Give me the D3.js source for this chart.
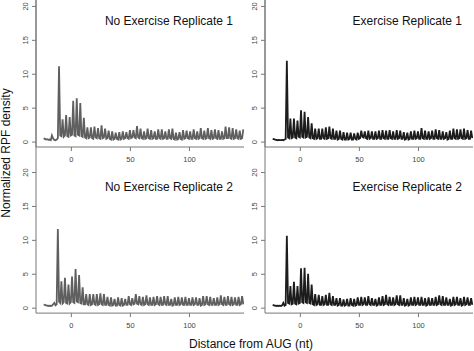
<!DOCTYPE html>
<html>
<head>
<meta charset="utf-8">
<script src="https://cdn.jsdelivr.net/npm/d3@7"></script>
<style>
  body { margin: 0; background: #fff; }
  svg { display: block; font-family: "Liberation Sans", Arial, sans-serif; }
  .axis text { fill: #444; font-size: 7.5px; }
  .axis line { stroke: #777; }
  .frame { stroke: #777; stroke-width: 1; }
  .panel-title { font-size: 12px; fill: #111; text-anchor: end; }
  .axis-title { font-size: 12px; fill: #111; text-anchor: middle; }
</style>
</head>
<body>
<div id="chart"></div>
<script>

// nucleotide position of the first value in each series (distance from AUG)
const firstPos = -23;

// Normalized RPF density, one value per nucleotide from -23 to 146
const noExRep1 = [
    0.5, 0.4, 0.3, 0.35, 0.25, 0.3, 0.2, 0.9, 0.45, 0.25, 0.2, 0.3, 0.5,
    11.1, 0.9, 0.8,  3.3, 0.7, 0.9,  3.9, 0.8, 0.7,  3.6, 0.9, 1.0,
    6.0, 0.9, 0.8,  6.4, 1.0, 0.9,  5.7, 0.8, 0.7,  3.5, 0.6, 0.5,
    2.1, 0.5, 0.6,  2.1, 0.5, 0.4,  2.2, 0.6, 0.5,  2.0, 0.5, 0.4,
    2.4, 0.5, 0.6,  1.9, 0.4, 0.5,  1.6, 0.4, 0.3,  1.5, 0.3, 0.4,
    1.3, 0.4, 0.3,  1.4, 0.3, 0.4,  1.5, 0.4, 0.5,  1.4, 0.5, 0.4,
    1.7, 0.5, 0.6,  1.7, 0.6, 0.5,  2.3, 0.6, 0.5,  1.9, 0.5, 0.4,
    1.5, 0.4, 0.5,  1.9, 0.5, 0.4,  1.7, 0.4, 0.5,  1.5, 0.4, 0.4,
    1.8, 0.5, 0.4,  1.8, 0.4, 0.5,  1.5, 0.4, 0.4,  1.8, 0.5, 0.4,
    1.9, 0.4, 0.3,  1.3, 0.3, 0.4,  1.4, 0.4, 0.3,  1.7, 0.4, 0.5,
    1.6, 0.5, 0.4,  1.5, 0.4, 0.4,  1.8, 0.5, 0.4,  1.5, 0.4, 0.5,
    2.0, 0.5, 0.4,  1.6, 0.4, 0.5,  2.0, 0.5, 0.4,  1.7, 0.4, 0.5,
    1.8, 0.5, 0.4,  1.7, 0.4, 0.4,  1.5, 0.4, 0.5,  2.2, 0.5, 0.5,
    2.1, 0.5, 0.4,  2.0, 0.4, 0.5,  1.8, 0.5, 0.4,  1.6, 0.4, 0.5,
    1.8
];

const exRep1 = [
    0.4, 0.35, 0.3, 0.25, 0.2, 0.25, 0.2, 0.2, 0.25, 0.2, 0.3, 0.4,
    11.9, 0.6, 0.5,  3.4, 0.5, 0.6,  3.4, 0.6, 0.5,  3.1, 0.7, 0.6,
    4.6, 0.7, 0.6,  4.4, 0.6, 0.7,  3.6, 0.6, 0.5,  2.7, 0.5, 0.4,
    1.9, 0.4, 0.5,  1.9, 0.4, 0.4,  1.9, 0.5, 0.4,  2.1, 0.4, 0.5,
    2.2, 0.5, 0.4,  1.9, 0.4, 0.4,  1.6, 0.3, 0.4,  1.6, 0.4, 0.3,
    1.4, 0.3, 0.3,  1.3, 0.3, 0.4,  1.3, 0.3, 0.3,  1.2, 0.4, 0.3,
    1.3, 0.4, 0.5,  1.6, 0.7, 0.6,  1.5, 0.5, 0.4,  1.6, 0.4, 0.5,
    1.5, 0.4, 0.4,  1.5, 0.4, 0.5,  1.6, 0.4, 0.4,  1.7, 0.5, 0.4,
    1.6, 0.4, 0.4,  1.7, 0.5, 0.4,  1.5, 0.4, 0.4,  1.7, 0.4, 0.5,
    1.6, 0.4, 0.4,  1.4, 0.3, 0.4,  1.3, 0.3, 0.4,  1.5, 0.4, 0.4,
    1.6, 0.4, 0.5,  1.5, 0.4, 0.4,  2.0, 0.5, 0.4,  1.6, 0.4, 0.4,
    1.5, 0.4, 0.5,  1.6, 0.4, 0.4,  1.8, 0.5, 0.4,  1.7, 0.4, 0.4,
    1.5, 0.4, 0.5,  1.4, 0.3, 0.4,  1.6, 0.4, 0.4,  1.9, 0.5, 0.4,
    1.8, 0.4, 0.5,  1.8, 0.5, 0.4,  1.9, 0.4, 0.5,  1.7, 0.4, 0.4,
    1.6, 0.5
];

const noExRep2 = [
    0.45, 0.4, 0.35, 0.3, 0.25, 0.3, 0.25, 0.3, 0.5, 0.7, 0.35, 0.5,
    11.6, 0.9, 0.7,  3.9, 0.6, 0.8,  4.4, 0.7, 0.6,  3.4, 0.6, 0.8,
    4.6, 0.8, 0.7,  5.7, 0.9, 0.8,  4.8, 0.7, 0.6,  3.0, 0.5, 0.5,
    2.0, 0.5, 0.4,  2.0, 0.4, 0.5,  2.0, 0.5, 0.4,  2.0, 0.4, 0.5,
    2.1, 0.5, 0.4,  2.0, 0.4, 0.4,  1.6, 0.4, 0.3,  1.5, 0.3, 0.4,
    1.3, 0.3, 0.3,  1.5, 0.4, 0.3,  1.4, 0.3, 0.4,  1.3, 0.4, 0.4,
    1.7, 0.5, 0.4,  1.4, 0.5, 0.6,  2.0, 0.6, 0.5,  1.7, 0.5, 0.4,
    1.6, 0.4, 0.5,  1.8, 0.5, 0.4,  1.5, 0.4, 0.4,  1.6, 0.4, 0.5,
    1.7, 0.5, 0.4,  1.6, 0.4, 0.4,  1.7, 0.5, 0.4,  1.7, 0.4, 0.4,
    1.3, 0.3, 0.4,  1.5, 0.4, 0.4,  1.6, 0.4, 0.5,  1.5, 0.4, 0.4,
    1.6, 0.4, 0.4,  1.4, 0.4, 0.4,  1.5, 0.4, 0.5,  1.5, 0.4, 0.4,
    1.4, 0.3, 0.4,  1.7, 0.4, 0.5,  1.7, 0.5, 0.4,  1.6, 0.4, 0.4,
    1.4, 0.4, 0.4,  1.5, 0.4, 0.5,  1.8, 0.5, 0.4,  1.6, 0.4, 0.4,
    1.7, 0.5, 0.4,  1.6, 0.4, 0.5,  1.5, 0.4, 0.4,  1.6, 0.4, 0.5,
    1.7, 0.5
];

const exRep2 = [
    0.4, 0.35, 0.3, 0.25, 0.3, 0.25, 0.3, 0.25, 0.35, 0.7, 0.3, 0.4,
    10.6, 0.7, 0.6,  3.2, 0.5, 0.6,  3.8, 0.6, 0.5,  3.2, 0.6, 0.7,
    5.8, 0.8, 0.7,  5.9, 0.8, 0.7,  5.0, 0.7, 0.6,  3.4, 0.5, 0.4,
    2.0, 0.4, 0.5,  1.9, 0.4, 0.4,  1.7, 0.4, 0.5,  1.9, 0.4, 0.4,
    2.2, 0.5, 0.4,  1.7, 0.4, 0.4,  1.4, 0.3, 0.4,  1.4, 0.3, 0.3,
    1.2, 0.3, 0.4,  1.3, 0.3, 0.3,  1.4, 0.4, 0.3,  1.3, 0.3, 0.4,
    1.5, 0.4, 0.4,  1.6, 0.4, 0.5,  1.5, 0.4, 0.4,  1.7, 0.5, 0.4,
    1.4, 0.4, 0.4,  1.3, 0.3, 0.4,  1.5, 0.4, 0.4,  1.7, 0.4, 0.5,
    1.9, 0.5, 0.4,  1.6, 0.4, 0.4,  1.5, 0.4, 0.5,  1.8, 0.5, 0.4,
    1.8, 0.4, 0.4,  1.4, 0.3, 0.4,  1.3, 0.3, 0.4,  1.5, 0.4, 0.4,
    1.6, 0.4, 0.5,  1.5, 0.4, 0.4,  1.6, 0.4, 0.4,  1.4, 0.3, 0.4,
    1.5, 0.4, 0.4,  1.4, 0.4, 0.4,  1.6, 0.4, 0.5,  1.8, 0.5, 0.4,
    1.7, 0.4, 0.4,  1.5, 0.4, 0.4,  1.3, 0.3, 0.4,  1.6, 0.4, 0.5,
    1.6, 0.4, 0.4,  1.4, 0.3, 0.4,  1.6, 0.4, 0.5,  1.5, 0.4, 0.4,
    1.4, 0.4
];

const panelTitles = ["No Exercise Replicate 1", "Exercise Replicate 1",
                     "No Exercise Replicate 2", "Exercise Replicate 2"];
const xTicks = [0, 50, 100];
const yTicks = [0, 5, 10, 15, 20];

// layout of the four plot regions (pixels)
const panels = [
    { title: panelTitles[0], data: noExRep1, color: "#5f5f5f", left: 36,  top: 0.5 },
    { title: panelTitles[1], data: exRep1,   color: "#1c1c1c", left: 265, top: 0.5 },
    { title: panelTitles[2], data: noExRep2, color: "#5f5f5f", left: 36,  top: 166.6 },
    { title: panelTitles[3], data: exRep2,   color: "#1c1c1c", left: 265, top: 166.6 }
];
const plotW = 208, plotH = 146.5;

const svg = d3.select("#chart").append("svg")
    .attr("width", 474)
    .attr("height", 351);

panels.forEach(function (p, i) {
    let g = svg.append("g")
        .attr("transform", "translate(" + p.left + "," + p.top + ")");

    let x = d3.scaleLinear()
        .domain([-29.5, 146.6])
        .range([0, plotW]);

    let y = d3.scaleLinear()
        .domain([-0.8, 20.8])
        .range([plotH, 0]);

    g.append("clipPath")
        .attr("id", "clip" + i)
        .append("rect")
        .attr("width", plotW)
        .attr("height", plotH);

    // L-shaped frame
    g.append("line").attr("class", "frame")
        .attr("x1", 0).attr("x2", 0).attr("y1", -p.top).attr("y2", plotH);
    g.append("line").attr("class", "frame")
        .attr("x1", 0).attr("x2", plotW).attr("y1", plotH).attr("y2", plotH);

    // axes
    let yAxis = d3.axisLeft(y).tickValues(yTicks).tickSize(4).tickSizeOuter(0);
    let yg = g.append("g").attr("class", "axis").call(yAxis);
    yg.select(".domain").remove();
    yg.selectAll("text")
        .attr("x", 0)
        .attr("dy", 0)
        .attr("transform", "translate(-8.5,0) rotate(-90)")
        .style("text-anchor", "middle");

    let xAxis = d3.axisBottom(x).tickValues(xTicks).tickSize(4).tickPadding(6).tickSizeOuter(0);
    let xg = g.append("g").attr("class", "axis")
        .attr("transform", "translate(0," + plotH + ")")
        .call(xAxis);
    xg.select(".domain").remove();

    // density line
    let line = d3.line()
        .x(function (d, j) { return x(firstPos + j); })
        .y(function (d) { return y(d); });

    g.append("path")
        .datum(p.data)
        .attr("clip-path", "url(#clip" + i + ")")
        .attr("d", line)
        .style("fill", "none")
        .style("stroke", p.color)
        .style("stroke-width", 1.8)
        .style("stroke-linejoin", "miter");

    g.append("text")
        .attr("class", "panel-title")
        .attr("x", plotW - 11)
        .attr("y", 24)
        .text(p.title);
});

// shared axis titles
svg.append("text")
    .attr("class", "axis-title")
    .attr("transform", "translate(10,153) rotate(-90)")
    .text("Normalized RPF density");

svg.append("text")
    .attr("class", "axis-title")
    .attr("x", 251)
    .attr("y", 348)
    .text("Distance from AUG (nt)");

</script>
</body>
</html>
